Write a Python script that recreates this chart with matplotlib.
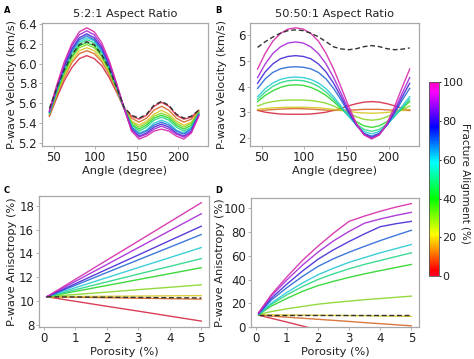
import matplotlib
matplotlib.use('Agg')
import matplotlib.pyplot as plt
import numpy as np
from matplotlib import colors as mcolors
from matplotlib.cm import ScalarMappable

plt.rcParams['font.family'] = ['DejaVu Sans']

ALIGN = [0, 10, 20, 30, 40, 50, 60, 70, 80, 90, 100]
ANGLES = [45, 54, 63, 72, 81, 90, 99, 108, 117, 126, 135, 144, 153, 162, 171, 180, 189, 198, 207, 216, 225]
POROSITY_C = [0.1, 1, 2, 3, 4, 5]
POROSITY_D = [0.1, 0.5, 1, 1.5, 2, 2.5, 3, 3.5, 4, 4.5, 5]

# Panel A: 5:2:1 aspect ratio, P-wave velocity (km/s)
A_K0 = [5.47, 5.66, 5.83, 5.96, 6.05, 6.08, 6.05, 5.98, 5.86, 5.71, 5.55, 5.47, 5.44, 5.48, 5.57, 5.61, 5.57, 5.48, 5.44, 5.46, 5.53]
A_K10 = [5.48, 5.68, 5.86, 6.01, 6.10, 6.13, 6.10, 6.02, 5.89, 5.73, 5.55, 5.45, 5.41, 5.45, 5.53, 5.57, 5.53, 5.45, 5.41, 5.44, 5.52]
A_K20 = [5.49, 5.70, 5.88, 6.03, 6.13, 6.16, 6.13, 6.04, 5.91, 5.74, 5.55, 5.42, 5.38, 5.42, 5.49, 5.53, 5.49, 5.42, 5.38, 5.41, 5.51]
A_K30 = [5.49, 5.71, 5.90, 6.06, 6.16, 6.19, 6.16, 6.07, 5.93, 5.75, 5.55, 5.41, 5.36, 5.40, 5.47, 5.50, 5.47, 5.40, 5.36, 5.40, 5.51]
A_K40 = [5.50, 5.72, 5.92, 6.07, 6.18, 6.21, 6.18, 6.08, 5.94, 5.75, 5.55, 5.39, 5.34, 5.38, 5.45, 5.48, 5.45, 5.38, 5.34, 5.38, 5.50]
A_K50 = [5.50, 5.73, 5.94, 6.10, 6.20, 6.24, 6.21, 6.11, 5.96, 5.76, 5.55, 5.38, 5.32, 5.36, 5.43, 5.46, 5.43, 5.36, 5.32, 5.36, 5.50]
A_K60 = [5.51, 5.74, 5.95, 6.12, 6.22, 6.26, 6.23, 6.12, 5.97, 5.77, 5.55, 5.36, 5.30, 5.33, 5.40, 5.43, 5.40, 5.33, 5.30, 5.35, 5.49]
A_K70 = [5.51, 5.75, 5.97, 6.13, 6.24, 6.28, 6.24, 6.14, 5.98, 5.78, 5.55, 5.36, 5.29, 5.32, 5.38, 5.41, 5.38, 5.32, 5.29, 5.34, 5.49]
A_K80 = [5.52, 5.76, 5.98, 6.15, 6.26, 6.30, 6.26, 6.16, 5.99, 5.78, 5.55, 5.34, 5.27, 5.30, 5.36, 5.39, 5.36, 5.30, 5.27, 5.32, 5.48]
A_K90 = [5.52, 5.77, 6.00, 6.18, 6.29, 6.33, 6.29, 6.18, 6.01, 5.79, 5.55, 5.33, 5.26, 5.29, 5.34, 5.37, 5.34, 5.29, 5.26, 5.31, 5.48]
A_K100 = [5.53, 5.79, 6.02, 6.20, 6.32, 6.36, 6.32, 6.21, 6.03, 5.80, 5.55, 5.32, 5.24, 5.27, 5.32, 5.34, 5.32, 5.27, 5.24, 5.30, 5.47]
A_REF = [5.55, 5.76, 5.94, 6.09, 6.19, 6.22, 6.19, 6.09, 5.95, 5.76, 5.56, 5.48, 5.45, 5.49, 5.58, 5.62, 5.58, 5.49, 5.45, 5.47, 5.53]

# Panel B: 50:50:1 aspect ratio
B_K0 = [3.08, 3.01, 2.97, 2.94, 2.93, 2.93, 2.93, 2.94, 2.97, 3.01, 3.08, 3.16, 3.26, 3.34, 3.40, 3.42, 3.40, 3.34, 3.26, 3.16, 3.08]
B_K10 = [3.08, 3.09, 3.11, 3.13, 3.14, 3.15, 3.14, 3.13, 3.11, 3.09, 3.08, 3.08, 3.09, 3.10, 3.12, 3.12, 3.12, 3.10, 3.09, 3.08, 3.08]
B_K20 = [3.12, 3.15, 3.18, 3.19, 3.20, 3.20, 3.20, 3.19, 3.18, 3.15, 3.12, 3.08, 3.04, 3.00, 2.98, 2.97, 2.98, 3.00, 3.04, 3.08, 3.12]
B_K30 = [3.25, 3.36, 3.42, 3.46, 3.48, 3.48, 3.48, 3.46, 3.42, 3.36, 3.25, 3.11, 2.97, 2.83, 2.73, 2.70, 2.73, 2.83, 2.97, 3.11, 3.25]
B_K40 = [3.42, 3.66, 3.84, 3.97, 4.05, 4.07, 4.05, 3.97, 3.84, 3.66, 3.42, 3.15, 2.87, 2.64, 2.48, 2.42, 2.48, 2.64, 2.87, 3.15, 3.42]
B_K50 = [3.51, 3.79, 4.01, 4.15, 4.23, 4.25, 4.23, 4.15, 4.01, 3.79, 3.51, 3.18, 2.84, 2.55, 2.34, 2.27, 2.34, 2.55, 2.84, 3.18, 3.51]
B_K60 = [3.61, 3.92, 4.14, 4.28, 4.35, 4.37, 4.35, 4.28, 4.14, 3.92, 3.61, 3.24, 2.85, 2.50, 2.26, 2.17, 2.26, 2.50, 2.85, 3.24, 3.61]
B_K70 = [3.93, 4.30, 4.55, 4.69, 4.75, 4.77, 4.75, 4.69, 4.55, 4.30, 3.93, 3.47, 2.96, 2.51, 2.19, 2.08, 2.19, 2.51, 2.96, 3.47, 3.93]
B_K80 = [4.13, 4.57, 4.88, 5.08, 5.17, 5.20, 5.17, 5.08, 4.88, 4.57, 4.13, 3.59, 3.02, 2.51, 2.16, 2.03, 2.16, 2.51, 3.02, 3.59, 4.13]
B_K90 = [4.35, 4.88, 5.28, 5.54, 5.69, 5.73, 5.69, 5.54, 5.28, 4.88, 4.35, 3.73, 3.09, 2.52, 2.14, 2.00, 2.14, 2.52, 3.09, 3.73, 4.35]
B_K100 = [4.68, 5.29, 5.76, 6.06, 6.23, 6.28, 6.23, 6.06, 5.76, 5.29, 4.68, 3.96, 3.22, 2.57, 2.13, 1.97, 2.13, 2.57, 3.22, 3.96, 4.68]
B_REF = [5.52, 5.74, 5.92, 6.07, 6.17, 6.20, 6.17, 6.07, 5.93, 5.74, 5.54, 5.46, 5.43, 5.47, 5.55, 5.59, 5.55, 5.47, 5.43, 5.45, 5.50]

# Panel C: 5:2:1, P-wave anisotropy (%) vs porosity
C_K0 = [10.35, 9.97, 9.55, 9.14, 8.72, 8.30]
C_K10 = [10.35, 10.31, 10.27, 10.23, 10.19, 10.15]
C_K20 = [10.35, 10.37, 10.39, 10.41, 10.43, 10.45]
C_K30 = [10.35, 10.54, 10.74, 10.95, 11.15, 11.36]
C_K40 = [10.35, 10.80, 11.30, 11.80, 12.30, 12.80]
C_K50 = [10.35, 10.94, 11.60, 12.26, 12.91, 13.57]
C_K60 = [10.35, 11.11, 11.96, 12.81, 13.65, 14.50]
C_K70 = [10.35, 11.31, 12.39, 13.46, 14.53, 15.60]
C_K80 = [10.35, 11.44, 12.66, 13.87, 15.09, 16.30]
C_K90 = [10.35, 11.64, 13.06, 14.49, 15.92, 17.35]
C_K100 = [10.35, 11.81, 13.43, 15.04, 16.66, 18.28]
C_REF = [10.35, 10.33, 10.31, 10.29, 10.27, 10.25]

# Panel D: 50:50:1
D_K0 = [10.0, 7.4, 4.2, 0.9, -2.4, -5.6, -8.8, -12.0, -15.0, -18.5, -21.7]
D_K10 = [10.0, 9.3, 8.3, 7.4, 6.5, 5.6, 4.7, 3.7, 2.8, 1.9, 1.0]
D_K20 = [10.3, 10.2, 10.1, 10.0, 9.9, 9.8, 9.6, 9.5, 9.3, 9.2, 9.0]
D_K30 = [10.5, 13.0, 15.3, 17.3, 19.2, 20.6, 21.8, 23.0, 24.0, 25.0, 26.0]
D_K40 = [10.5, 17.5, 24.0, 30.0, 34.8, 38.5, 41.8, 44.8, 47.5, 50.1, 52.7]
D_K50 = [10.5, 19.0, 27.0, 34.0, 40.0, 44.8, 49.0, 52.8, 56.0, 59.3, 62.5]
D_K60 = [10.5, 20.0, 29.0, 37.0, 44.0, 49.5, 54.5, 58.5, 62.5, 66.0, 69.5]
D_K70 = [11.0, 22.5, 33.0, 42.5, 51.0, 57.5, 63.0, 68.0, 72.8, 77.2, 81.5]
D_K80 = [11.5, 24.0, 36.0, 47.0, 57.0, 65.0, 72.0, 78.5, 84.5, 87.0, 89.0]
D_K90 = [12.0, 26.0, 39.5, 52.0, 63.0, 72.5, 80.5, 87.5, 91.0, 94.0, 96.6]
D_K100 = [12.0, 27.0, 42.0, 56.0, 68.0, 79.0, 89.0, 93.5, 97.5, 101.0, 104.0]
D_REF = [10.4, 10.4, 10.4, 10.4, 10.4, 10.4, 10.4, 10.4, 10.4, 10.4, 10.4]

A_SERIES = [A_K0, A_K10, A_K20, A_K30, A_K40, A_K50, A_K60, A_K70, A_K80, A_K90, A_K100]
B_SERIES = [B_K0, B_K10, B_K20, B_K30, B_K40, B_K50, B_K60, B_K70, B_K80, B_K90, B_K100]
C_SERIES = [C_K0, C_K10, C_K20, C_K30, C_K40, C_K50, C_K60, C_K70, C_K80, C_K90, C_K100]
D_SERIES = [D_K0, D_K10, D_K20, D_K30, D_K40, D_K50, D_K60, D_K70, D_K80, D_K90, D_K100]

cmap = plt.get_cmap('gist_rainbow')
norm = mcolors.Normalize(vmin=0, vmax=100)

def line_color(k):
    c = np.array(cmap(norm(k))[:3])
    return tuple(0.68 * c + 0.32 * 0.5)

fig = plt.figure(figsize=(4.74, 3.59), dpi=100)

SPINE = '#a8a8a8'
FS_TICK = 8.5
FS_LAB = 8.2

def style(ax):
    for s in ax.spines.values():
        s.set_color(SPINE)
        s.set_linewidth(0.9)
    ax.tick_params(axis='both', length=2, width=0.6, color=SPINE,
                   labelsize=FS_TICK, pad=1.5, labelcolor='#222222')

def panel(rect, x, series, ref, xlim, ylim, yticks, xticks, xlabel, ylabel, title, ylab_x):
    ax = fig.add_axes(rect)
    for k, vals in zip(ALIGN, series):
        ax.plot(x, vals, color=line_color(k), lw=1.0, alpha=0.9)
    ax.plot(x, ref, color='#333333', lw=1.0, ls=(0, (3.5, 2)))
    ax.set_xlim(*xlim)
    ax.set_ylim(*ylim)
    ax.set_xticks(xticks)
    ax.set_yticks(yticks)
    ax.set_xlabel(xlabel, fontsize=FS_LAB, labelpad=1.5, color='#222222')
    ax.set_ylabel(ylabel, fontsize=FS_LAB, color='#222222')
    ax.yaxis.set_label_coords(ylab_x, 0.5)
    if title:
        ax.set_title(title, fontsize=FS_LAB, pad=4, color='#222222')
    style(ax)
    return ax

axA = panel([0.0886, 0.5933, 0.350, 0.343], ANGLES, A_SERIES, A_REF,
            (36, 236), (5.17, 6.41), [5.2, 5.4, 5.6, 5.8, 6.0, 6.2, 6.4],
            [50, 100, 150, 200], 'Angle (degree)', 'P-wave Velocity (km/s)',
            '5:2:1 Aspect Ratio', -0.15)
axA.yaxis.set_major_formatter(matplotlib.ticker.FormatStrFormatter('%.1f'))

axB = panel([0.5274, 0.5933, 0.3565, 0.343], ANGLES, B_SERIES, B_REF,
            (36, 236), (1.70, 6.47), [2, 3, 4, 5, 6],
            [50, 100, 150, 200], 'Angle (degree)', 'P-wave Velocity (km/s)',
            '50:50:1 Aspect Ratio', -0.136)

axC = panel([0.0823, 0.0891, 0.3586, 0.365], POROSITY_C, C_SERIES, C_REF,
            (-0.145, 5.245), (7.8, 18.85), [8, 10, 12, 14, 16, 18],
            [0, 1, 2, 3, 4, 5], 'Porosity (%)', 'P-wave Anisotropy (%)',
            None, -0.13)

axD = panel([0.5295, 0.0891, 0.3544, 0.3594], POROSITY_D, D_SERIES, D_REF,
            (-0.145, 5.245), (0, 108.7), [0, 20, 40, 60, 80, 100],
            [0, 1, 2, 3, 4, 5], 'Porosity (%)', 'P-wave Anisotropy (%)',
            None, -0.155)

for lbl, (x, y) in zip('ABCD', [(0.008, 0.982), (0.455, 0.982), (0.008, 0.482), (0.455, 0.482)]):
    fig.text(x, y, lbl, fontsize=6, fontweight='bold', va='top', ha='left')

cax = fig.add_axes([0.905, 0.231, 0.021, 0.540])
sm = ScalarMappable(norm=norm, cmap=cmap)
cb = fig.colorbar(sm, cax=cax, ticks=[0, 20, 40, 60, 80, 100])
cb.outline.set_linewidth(0.6)
cb.outline.set_edgecolor('#555555')
cax.tick_params(length=1.5, width=0.6, labelsize=8, pad=1, labelcolor='#222222')
fig.text(0.980, 0.49, 'Fracture Alignment (%)', rotation=270, fontsize=7.5,
         ha='center', va='center', color='#222222')

fig.savefig('out.png', dpi=100)
